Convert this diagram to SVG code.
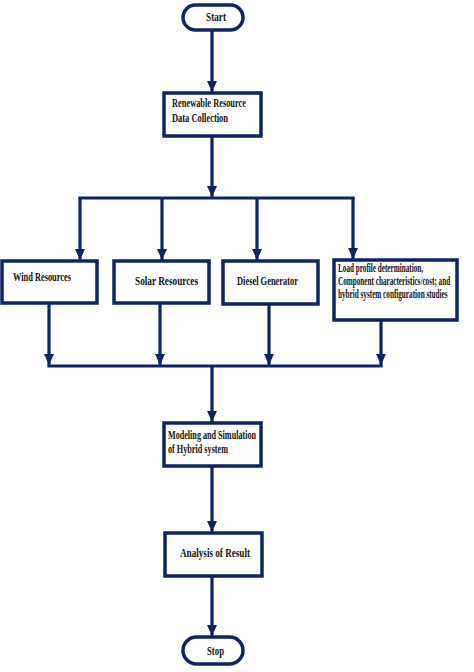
<svg xmlns="http://www.w3.org/2000/svg" width="474" height="672" viewBox="0 0 474 672">
<style>
  .box { fill: #ffffff; stroke: #0d2466; stroke-width: 3.5; }
  .ln { fill: none; stroke: #0d2466; stroke-width: 3.2; }
  text { font-family: "Liberation Serif", "Times New Roman", serif; font-weight: bold; fill: #111111; font-size: 12px; }
</style>
<defs>
  <marker id="arr" markerUnits="userSpaceOnUse" markerWidth="12" markerHeight="12" viewBox="0 0 12 12" refX="11" refY="6" orient="auto">
    <path d="M0,1 L11,6 L0,11 Z" fill="#0d2466"/>
  </marker>
</defs>
<rect width="474" height="672" fill="#ffffff"/>
<g id="connectors">
  <line class="ln" x1="212" y1="30" x2="212" y2="92" marker-end="url(#arr)"/>
  <line class="ln" x1="212" y1="137" x2="212" y2="197" marker-end="url(#arr)"/>
  <line class="ln" x1="78.4" y1="198" x2="354.6" y2="198"/>
  <line class="ln" x1="80" y1="198" x2="80" y2="260" marker-end="url(#arr)"/>
  <line class="ln" x1="162" y1="198" x2="162" y2="260" marker-end="url(#arr)"/>
  <line class="ln" x1="257" y1="198" x2="257" y2="260" marker-end="url(#arr)"/>
  <line class="ln" x1="353" y1="198" x2="353" y2="259" marker-end="url(#arr)"/>
  <line class="ln" x1="49" y1="304" x2="49" y2="365" marker-end="url(#arr)"/>
  <line class="ln" x1="160" y1="304" x2="160" y2="365" marker-end="url(#arr)"/>
  <line class="ln" x1="269" y1="305" x2="269" y2="365" marker-end="url(#arr)"/>
  <line class="ln" x1="381" y1="321" x2="381" y2="365" marker-end="url(#arr)"/>
  <line class="ln" x1="47.4" y1="366" x2="382.6" y2="366"/>
  <line class="ln" x1="212" y1="366" x2="212" y2="422" marker-end="url(#arr)"/>
  <line class="ln" x1="212" y1="466" x2="212" y2="532" marker-end="url(#arr)"/>
  <line class="ln" x1="212" y1="576" x2="212" y2="636" marker-end="url(#arr)"/>
</g>
<g id="start">
  <rect class="box" x="183" y="5" width="60" height="25" rx="12.5"/>
  <text x="206" y="20.5" textLength="20" lengthAdjust="spacingAndGlyphs" font-size="13">Start</text>
</g>
<g id="renewable">
  <rect class="box" x="164" y="93" width="97" height="43"/>
  <text x="172" y="107" textLength="74" lengthAdjust="spacingAndGlyphs">Renewable Resource</text>
  <text x="172" y="122" textLength="56" lengthAdjust="spacingAndGlyphs">Data Collection</text>
</g>
<g id="wind">
  <rect class="box" x="2" y="261" width="95" height="42"/>
  <text x="13" y="281" textLength="58" lengthAdjust="spacingAndGlyphs">Wind Resources</text>
</g>
<g id="solar">
  <rect class="box" x="114" y="261" width="95" height="42"/>
  <text x="135" y="284.5" textLength="63" lengthAdjust="spacingAndGlyphs" font-size="13">Solar Resources</text>
</g>
<g id="diesel">
  <rect class="box" x="223" y="261" width="95" height="43"/>
  <text x="237" y="284.5" textLength="61" lengthAdjust="spacingAndGlyphs">Diesel Generator</text>
</g>
<g id="load">
  <rect class="box" x="334" y="260" width="123" height="60"/>
  <g transform="translate(338,0) scale(0.6,1)">
    <text x="0" y="272.5" font-size="11">Load profile determination,</text>
    <text x="0" y="285.5" font-size="11">Component characteristics/cost; and</text>
    <text x="0" y="298.5" font-size="11">hybrid system configuration studies</text>
  </g>
</g>
<g id="modeling">
  <rect class="box" x="164" y="423" width="97" height="43"/>
  <text x="168" y="439" textLength="88" lengthAdjust="spacingAndGlyphs">Modeling and Simulation</text>
  <text x="168" y="453" textLength="60" lengthAdjust="spacingAndGlyphs">of Hybrid system</text>
</g>
<g id="analysis">
  <rect class="box" x="165" y="533" width="97" height="43"/>
  <text x="180" y="556.5" textLength="70" lengthAdjust="spacingAndGlyphs" font-size="13">Analysis of Result</text>
</g>
<g id="stop">
  <rect class="box" x="183" y="637" width="60" height="27" rx="13.5"/>
  <text x="207" y="655" textLength="17" lengthAdjust="spacingAndGlyphs" font-size="13">Stop</text>
</g>
</svg>
